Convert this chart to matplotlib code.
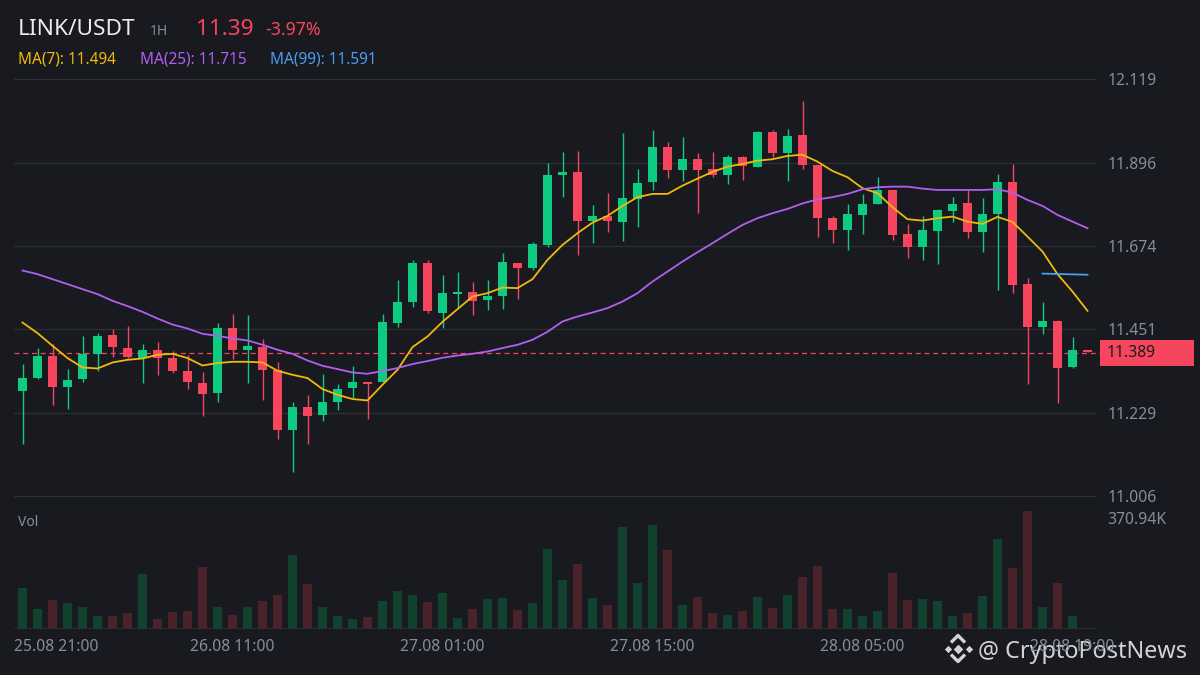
import matplotlib
matplotlib.use("Agg")
import matplotlib.pyplot as plt
import matplotlib.transforms as mtransforms
from matplotlib.patches import Rectangle

plt.rcParams['font.family'] = ['Noto Sans', 'DejaVu Sans']

# ---------------- data ----------------
opens = [11.2852, 11.3199, 11.3805, 11.2959, 11.3173, 11.3866, 11.4366, 11.4019, 11.3752, 11.3965,
         11.3752, 11.3405, 11.3085, 11.2799, 11.4552, 11.3947, 11.4045, 11.3431, 11.1812, 11.2444,
         11.2212, 11.2559, 11.2932, 11.3111, 11.3093, 11.4694, 11.5254, 11.6287, 11.4961, 11.5468,
         11.5513, 11.5308, 11.5414, 11.6287, 11.6162, 11.6776, 11.8644, 11.8716, 11.7416, 11.7541,
         11.7389, 11.8003, 11.8457, 11.9383, 11.8777, 11.9063, 11.8796, 11.8644, 11.9116, 11.8857,
         11.9783, 11.9231, 11.9703, 11.8903, 11.7488, 11.7176, 11.7576, 11.7870, 11.8235, 11.7061,
         11.6722, 11.7149, 11.7683, 11.7888, 11.7122, 11.7603, 11.8449, 11.5727, 11.4587, 11.4739,
         11.3493, 11.3965]
highs = [11.3592, 11.4019, 11.4125, 11.3450, 11.4331, 11.4419, 11.4526, 11.4598, 11.4125, 11.4179,
         11.3939, 11.3832, 11.3378, 11.4686, 11.4926, 11.4899, 11.4259, 11.3645, 11.2577, 11.2764,
         11.3325, 11.3058, 11.3538, 11.3111, 11.4926, 11.5833, 11.6367, 11.6367, 11.5967, 11.6047,
         11.5780, 11.5833, 11.6554, 11.6287, 11.6848, 11.8956, 11.9249, 11.9276, 11.7835, 11.8155,
         11.9757, 11.8796, 11.9837, 11.9516, 11.9650, 11.9223, 11.9249, 11.9169, 11.9143, 11.9810,
         11.9837, 11.9863, 12.0611, 11.8903, 11.7541, 11.7862, 11.8129, 11.8582, 11.8235, 11.7328,
         11.7541, 11.7728, 11.8049, 11.8235, 11.8022, 11.8662, 11.8929, 11.5887, 11.5246, 11.4766,
         11.4312, 11.3965]
lows = [11.1438, 11.3173, 11.2479, 11.2372, 11.3093, 11.3386, 11.3778, 11.3752, 11.3066, 11.3279,
        11.3333, 11.2906, 11.2185, 11.2559, 11.3706, 11.3066, 11.2612, 11.1571, 11.0691, 11.1438,
        11.2052, 11.2345, 11.2676, 11.2105, 11.3093, 11.4587, 11.5121, 11.4961, 11.4534, 11.5121,
        11.4907, 11.5041, 11.5067, 11.5334, 11.6108, 11.6714, 11.8057, 11.6509, 11.6829, 11.7122,
        11.6882, 11.7256, 11.8243, 11.8564, 11.8484, 11.7630, 11.8590, 11.8403, 11.8510, 11.8857,
        11.9124, 11.8484, 11.8804, 11.6989, 11.6829, 11.6642, 11.7069, 11.7870, 11.6909, 11.6429,
        11.6375, 11.6268, 11.7389, 11.6962, 11.6589, 11.5575, 11.5494, 11.3039, 11.4400, 11.2532,
        11.3466, 11.3910]
closes = [11.3218, 11.3805, 11.2959, 11.3165, 11.3858, 11.4339, 11.4027, 11.3786, 11.3965, 11.3733,
          11.3386, 11.3093, 11.2772, 11.4552, 11.3947, 11.4072, 11.3413, 11.1812, 11.2444, 11.2185,
          11.2577, 11.2924, 11.3111, 11.3058, 11.4713, 11.5246, 11.6287, 11.5014, 11.5486, 11.5513,
          11.5281, 11.5406, 11.6314, 11.6162, 11.6794, 11.8636, 11.8716, 11.7416, 11.7541, 11.7416,
          11.8022, 11.8422, 11.9383, 11.8777, 11.9063, 11.8777, 11.8644, 11.9116, 11.8884, 11.9783,
          11.9231, 11.9676, 11.8911, 11.7496, 11.7176, 11.7595, 11.7862, 11.8235, 11.7042, 11.6722,
          11.7168, 11.7702, 11.7862, 11.7122, 11.7595, 11.8449, 11.5708, 11.4587, 11.4739, 11.3466,
          11.3965, 11.3910]
volumes_k = [128.9, 62.9, 91.2, 81.7, 69.2, 40.9, 40.9, 50.3, 172.9, 31.4,
             53.4, 56.6, 194.9, 69.2, 44.0, 69.2, 88.0, 106.9, 232.6, 141.5,
             69.2, 40.9, 31.4, 37.7, 88.0, 119.5, 106.9, 84.9, 113.2, 34.6,
             62.9, 94.3, 97.5, 59.7, 81.7, 251.5, 154.0, 204.3, 97.5, 75.4,
             320.6, 144.6, 326.9, 248.3, 75.4, 100.6, 50.3, 44.0, 56.6, 100.6,
             66.0, 106.9, 163.5, 198.0, 62.9, 62.9, 40.9, 56.6, 176.0, 91.2,
             94.3, 88.0, 40.9, 50.3, 103.7, 282.9, 191.8, 370.9, 69.2, 144.6,
             40.9, 3.1]
ma7 = [11.4694, 11.4411, 11.4072, 11.3744, 11.3493, 11.3466, 11.3626, 11.3698, 11.3733, 11.3832,
       11.3858, 11.3744, 11.3546, 11.3610, 11.3645, 11.3645, 11.3626, 11.3405, 11.3298, 11.3210,
       11.2916, 11.2764, 11.2650, 11.2612, 11.3031, 11.3431, 11.4037, 11.4320, 11.4713, 11.5051,
       11.5388, 11.5478, 11.5628, 11.5612, 11.5852, 11.6367, 11.6767, 11.7080, 11.7363, 11.7541,
       11.7808, 11.8041, 11.8129, 11.8129, 11.8350, 11.8537, 11.8716, 11.8857, 11.8929, 11.9017,
       11.9055, 11.9143, 11.9175, 11.8991, 11.8742, 11.8574, 11.8281, 11.8147, 11.7774, 11.7453,
       11.7416, 11.7480, 11.7523, 11.7389, 11.7328, 11.7515, 11.7381, 11.6989, 11.6589, 11.5986,
       11.5521, 11.5006]
ma25 = [11.6082, 11.5986, 11.5852, 11.5719, 11.5585, 11.5452, 11.5273, 11.5132, 11.4979, 11.4801,
        11.4640, 11.4534, 11.4392, 11.4339, 11.4267, 11.4214, 11.4099, 11.3965, 11.3858, 11.3680,
        11.3538, 11.3450, 11.3359, 11.3325, 11.3397, 11.3477, 11.3584, 11.3664, 11.3752, 11.3813,
        11.3858, 11.3920, 11.4011, 11.4099, 11.4232, 11.4446, 11.4721, 11.4854, 11.4961, 11.5078,
        11.5254, 11.5478, 11.5788, 11.6055, 11.6322, 11.6573, 11.6813, 11.7061, 11.7301, 11.7480,
        11.7614, 11.7728, 11.7875, 11.7982, 11.8041, 11.8129, 11.8254, 11.8307, 11.8323, 11.8323,
        11.8270, 11.8235, 11.8235, 11.8235, 11.8235, 11.8254, 11.8163, 11.7968, 11.7808, 11.7568,
        11.7389, 11.7213]
ma99 = [11.600, 11.599, 11.598, 11.597]
ma99_start = 68
price_ticks = [12.119, 11.896, 11.674, 11.451, 11.229, 11.006]
x_tick_idx = [0, 14, 28, 42, 56, 70]
x_tick_labels = ["25.08 21:00", "26.08 11:00", "27.08 01:00", "27.08 15:00", "28.08 05:00", "28.08 19:00"]
vol_max_k = 370.94
last_price = 11.389
header_price = "11.39"
header_change = "-3.97%"
ma_labels = ["MA(7): 11.494", "MA(25): 11.715", "MA(99): 11.591"]

# ---------------- style ----------------
BG = "#181a20"
GRID = "#2b2f36"
GRAY = "#848e9c"
UP = "#0ecb81"
DOWN = "#f6465d"
UP_VOL = "#11412f"
DOWN_VOL = "#4a222a"
C_MA7 = "#f0b90b"
C_MA25 = "#b15ff0"
C_MA99 = "#4a9cf5"

W, H = 1200, 675
fig = plt.figure(figsize=(12, 6.75), dpi=100, facecolor=BG)


def fx(px):
    return px / W


def fy(py):
    return 1 - py / H


n = len(opens)
xs = list(range(n))
x_left = (14 - 22.5) / 15
x_right = (1096 - 22.5) / 15

# ---------------- price pane ----------------
ax = fig.add_axes([fx(14), fy(496), fx(1096 - 14), (496 - 79.3) / H])
ax.set_facecolor(BG)
ax.set_xlim(x_left, x_right)
ax.set_ylim(price_ticks[-1], price_ticks[0])
for s in ax.spines.values():
    s.set_visible(False)
for t in price_ticks:
    ax.axhline(t, color=GRID, lw=0.9, zorder=0, clip_on=False)
ax.set_xticks([])
ax.set_yticks(price_ticks)
ax.set_yticklabels([f"{t:.3f}" for t in price_ticks])
ax.yaxis.tick_right()
ax.tick_params(axis='y', length=0, pad=8, labelcolor=GRAY, labelsize=11.3)

colors = [UP if c >= o else DOWN for o, c in zip(opens, closes)]
min_h = 0.0035
bottoms = [min(o, c) for o, c in zip(opens, closes)]
heights = [max(abs(c - o), min_h) for o, c in zip(opens, closes)]
ax.vlines(xs, lows, highs, colors=colors, lw=1.0, zorder=2)
ax.bar(xs, heights, bottom=bottoms, width=0.6, color=colors, lw=0, zorder=3)

ax.plot(xs, ma7, color=C_MA7, lw=1.3, zorder=4, solid_joinstyle='round')
ax.plot(xs, ma25, color=C_MA25, lw=1.3, zorder=4, solid_joinstyle='round')
ax.plot(xs[ma99_start:ma99_start + len(ma99)], ma99, color=C_MA99, lw=1.3, zorder=4)

# current price dashed line + label box
ax.axhline(last_price, xmin=0, xmax=(1100 - 14) / (1096 - 14), color=DOWN, lw=0.9,
           ls=(0, (4, 3)), zorder=1, clip_on=False)
blend = mtransforms.blended_transform_factory(fig.transFigure, ax.transData)
box_h = 26 / 374.7
fig.add_artist(Rectangle((fx(1100), last_price - box_h / 2), fx(94), box_h,
                         transform=blend, color=DOWN, lw=0, zorder=5))
fig.text(fx(1107), last_price, f"{last_price:.3f}", transform=blend, va='center', ha='left',
         color="#1a1c22", fontsize=11.3, zorder=6)

# ---------------- volume pane ----------------
axv = fig.add_axes([fx(14), fy(629), fx(1096 - 14), 118 / H])
axv.set_facecolor(BG)
axv.set_xlim(x_left, x_right)
axv.set_ylim(0, vol_max_k)
for s in axv.spines.values():
    s.set_visible(False)
axv.set_xticks([])
axv.set_yticks([])
vcolors = [UP_VOL if c >= o else DOWN_VOL for o, c in zip(opens, closes)]
axv.bar(xs, volumes_k, width=0.6, color=vcolors, lw=0, zorder=2)
axv.axhline(0, color=GRID, lw=1.2, zorder=3)

fig.text(fx(18), fy(522), "Vol", color=GRAY, fontsize=10, va='center', ha='left')
fig.text(fx(1107), fy(520), f"{vol_max_k:.2f}K", color=GRAY, fontsize=11.3, va='center', ha='left')

# x labels
bt = mtransforms.blended_transform_factory(axv.transData, fig.transFigure)
for i, (idx, lab) in enumerate(zip(x_tick_idx, x_tick_labels)):
    if i == 0:
        fig.text(x_left, fy(647), lab, transform=bt, ha='left', va='center',
                 color=GRAY, fontsize=11.3, zorder=2)
    else:
        fig.text(idx, fy(647), lab, transform=bt, ha='center', va='center',
                 color=GRAY, fontsize=11.3, zorder=2)

# ---------------- header ----------------
fig.text(fx(18), fy(35), "LINK/USDT", color="#eaecef", fontsize=16.3, va='baseline', ha='left')
fig.text(fx(150), fy(35), "1H", color=GRAY, fontsize=10, va='baseline', ha='left')
fig.text(fx(196), fy(35), header_price, color=DOWN, fontsize=16.3, va='baseline', ha='left')
fig.text(fx(265), fy(35), header_change, color=DOWN, fontsize=12.8, va='baseline', ha='left')
for px, lab, col in zip([18, 140, 270], ma_labels, [C_MA7, C_MA25, C_MA99]):
    fig.text(fx(px), fy(63), lab, color=col, fontsize=11.1, va='baseline', ha='left')

# ---------------- watermark ----------------
axo = fig.add_axes([0, 0, 1, 1], facecolor='none')
axo.set_xlim(0, W)
axo.set_ylim(H, 0)
axo.axis('off')
WM = "#e4e4e4"
cx, cy = 958, 648.5
axo.scatter([cx], [cy], marker='D', s=24, color=WM, alpha=0.92, lw=0)
axo.scatter([cx - 10.5, cx + 10.5], [cy, cy], marker='D', s=14, color=WM, alpha=0.92, lw=0)
axo.plot([cx - 7, cx, cx + 7], [cy - 6, cy - 13, cy - 6], color=WM, lw=2.4, alpha=0.92,
         solid_capstyle='butt')
axo.plot([cx - 7, cx, cx + 7], [cy + 6, cy + 13, cy + 6], color=WM, lw=2.4, alpha=0.92,
         solid_capstyle='butt')
axo.text(978, 658, "@ CryptoPostNews", color=WM, alpha=0.92, fontsize=16.8,
         va='baseline', ha='left')

fig.savefig("out.png", dpi=100, facecolor=BG)
